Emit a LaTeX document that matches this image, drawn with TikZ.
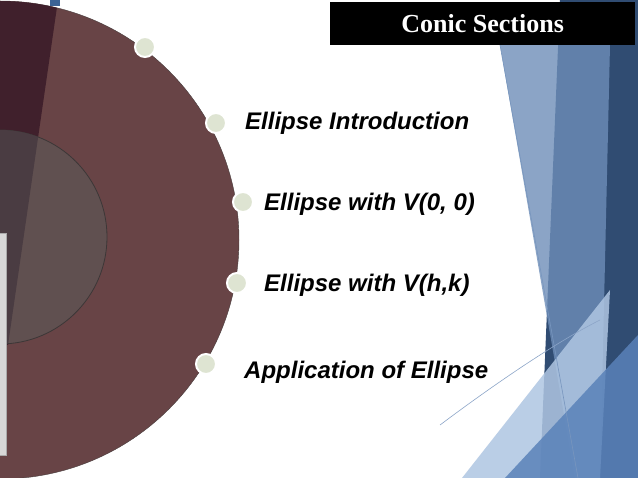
\documentclass[tikz,border=0pt]{standalone}
\usepackage{fontspec}
\newfontfamily\lab{Liberation Sans}
\newfontfamily\ttl{Liberation Serif}
\definecolor{cbul}{RGB}{222,228,210}
\definecolor{cb1}{RGB}{48,76,114}
\definecolor{cb2}{RGB}{110,142,184}
\definecolor{cb3}{RGB}{175,198,226}
\definecolor{cb4}{RGB}{90,130,185}
\definecolor{cl1}{RGB}{120,150,190}
\definecolor{cl2}{RGB}{140,165,200}
\definecolor{ctop}{RGB}{60,100,150}
\definecolor{cbig}{RGB}{104,68,70}
\definecolor{cbigd}{RGB}{70,60,60}
\definecolor{cdark}{RGB}{64,32,44}
\definecolor{cin}{RGB}{96,80,80}
\definecolor{cind}{RGB}{60,55,55}
\definecolor{cindark}{RGB}{74,60,66}
\definecolor{cbar}{RGB}{215,215,215}
\definecolor{cbard}{RGB}{170,170,170}
\begin{document}
\begin{tikzpicture}[x=1pt,y=-1pt,
  bul/.style={circle,minimum size=20pt,inner sep=0pt,fill=cbul,draw=white,line width=2pt},
  lbl/.style={anchor=west,inner sep=0pt,font=\lab\bfseries\itshape\fontsize{24}{26}\selectfont}]
\useasboundingbox (0,0) rectangle (638,478);
\fill[white] (0,0) rectangle (638,478);
% blue decoration
\fill[cb1] (560,0)--(638,0)--(638,478)--(540,478)--cycle;
\fill[cb2,opacity=.8] (500,45)--(610,45)--(600,478)--(575,478)--cycle;
\fill[cb3,opacity=.85] (462,478)--(600,478)--(610,290)--cycle;
\fill[cb4,opacity=.85] (505,478)--(638,478)--(638,335)--cycle;
\draw[cl1,line width=.6pt] (500,45)--(578,478);
\draw[cl2,line width=.6pt] (440,425)..controls (500,380) and (560,340)..(600,320);
\fill[ctop] (50,0) rectangle (60,6);
% circles
\fill[cbig,draw=cbigd] (0,240) circle (239);
\begin{scope}
\clip (0,240) circle (239);
\fill[cdark] (0,0)--(58,0)--(8,345)--(0,345)--cycle;
\end{scope}
\fill[cin,draw=cind,line width=.8pt] (0,237) circle (107);
\begin{scope}
\clip (0,237) circle (107);
\fill[cindark] (0,0)--(58,0)--(8,345)--(0,345)--cycle;
\end{scope}
\fill[cbar,draw=cbard] (-3,233) rectangle (6,455);
% title
\node[fill=black,minimum width=305pt,minimum height=43pt,inner sep=0pt,anchor=north west] (t) at (330,2) {};
\node[text=white,font=\ttl\bfseries\fontsize{26}{28}\selectfont] (tt) at (t.center) {Conic Sections};
% bullets
\node[bul] (b0) at (145,47) {};
\node[bul] (b1) at (216,123) {};
\node[bul] (b2) at (243,202) {};
\node[bul] (b3) at (237,283) {};
\node[bul] (b4) at (206,364) {};
\node[lbl] (l1) at (245,123) {Ellipse Introduction};
\node[lbl] (l2) at (264,204) {Ellipse with V(0, 0)};
\node[lbl] (l3) at (264,285) {Ellipse with V(h,k)};
\node[lbl] (l4) at (244,372) {Application of Ellipse};
\end{tikzpicture}
\end{document}
